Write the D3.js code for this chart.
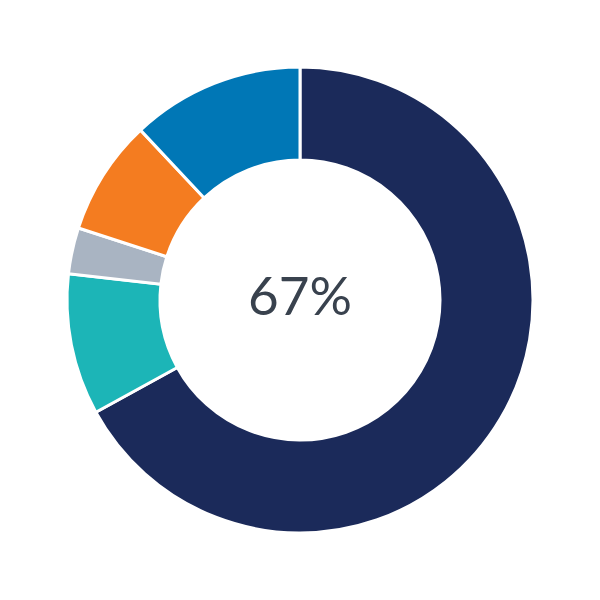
<!DOCTYPE html>
<html>
<head>
<meta charset="utf-8">
<script src="https://cdn.jsdelivr.net/npm/d3@7"></script>
<style>
  body { margin: 0; background: #fff; }
  svg { display: block; }
</style>
</head>
<body>
<svg id="chart"></svg>
<script>
// slice data, clockwise from 12 o'clock
const categories = ["A", "B", "C", "D", "E"];
const values = [67, 9.8, 3.2, 8, 12];
const colors = ["#1b2a5a", "#1cb5b7", "#a9b4c2", "#f47c20", "#0077b6"];
const centerLabel = "67%";

const width = 600, height = 600;
const outerR = 233, innerR = 140;

const svg = d3.select("#chart").attr("width", width).attr("height", height);
const g = svg.append("g").attr("transform", `translate(300,300)`);

const pie = d3.pie().sort(null).value((d, i) => values[i]);
const arc = d3.arc().innerRadius(innerR).outerRadius(outerR);

g.selectAll("path")
  .data(pie(categories))
  .join("path")
  .attr("d", arc)
  .attr("fill", (d, i) => colors[i])
  .attr("stroke", "#fff")
  .attr("stroke-width", 3);

g.append("text")
  .attr("text-anchor", "middle")
  .attr("dy", "0.28em")
  .attr("font-family", "Lato, sans-serif")
  .attr("font-weight", 400)
  .attr("font-size", 53)
  .attr("fill", "#39424e")
  .text(centerLabel);
</script>
</body>
</html>
